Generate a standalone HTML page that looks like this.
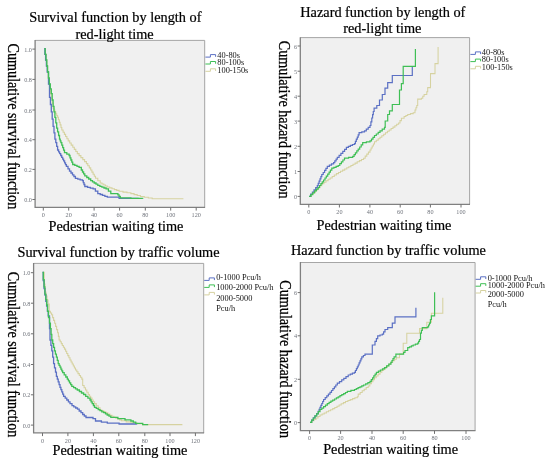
<!DOCTYPE html>
<html><head><meta charset="utf-8"><title>Survival and hazard functions</title>
<style>
html,body{margin:0;padding:0;background:#fff;}
svg{display:block;}
text{font-family:"Liberation Serif",serif;fill:#000;}
.tt{font-size:13.6px;stroke:#000;stroke-width:0.2px;}
.xl{font-size:13.6px;stroke:#000;stroke-width:0.2px;}
.yl{font-size:14.15px;stroke:#000;stroke-width:0.25px;}
.lg{font-size:8.35px;fill:#111;}
.tk{font-size:6.2px;fill:#70747c;}
</style></head><body>
<svg width="550" height="464" viewBox="0 0 550 464">
<rect width="550" height="464" fill="#ffffff"/>
<rect x="35.1" y="40.4" width="169.6" height="167.0" fill="#f0f0f0"/>
<path d="M35.1 40.4 H204.7 V207.4" fill="none" stroke="#9c9c9c" stroke-width="0.9"/>
<path d="M35.1 40.0 V207.4 H205.1" fill="none" stroke="#808080" stroke-width="1.3"/>
<rect x="300.3" y="37.6" width="169.3" height="166.7" fill="#f0f0f0"/>
<path d="M300.3 37.6 H469.6 V204.3" fill="none" stroke="#9c9c9c" stroke-width="0.9"/>
<path d="M300.3 37.2 V204.3 H470.0" fill="none" stroke="#808080" stroke-width="1.3"/>
<rect x="33.6" y="263.4" width="170.1" height="169.5" fill="#f0f0f0"/>
<path d="M33.6 263.4 H203.7 V432.9" fill="none" stroke="#9c9c9c" stroke-width="0.9"/>
<path d="M33.6 263.0 V432.9 H204.1" fill="none" stroke="#808080" stroke-width="1.3"/>
<rect x="300.4" y="262.5" width="174.7" height="168.2" fill="#f0f0f0"/>
<path d="M300.4 262.5 H475.1 V430.7" fill="none" stroke="#9c9c9c" stroke-width="0.9"/>
<path d="M300.4 262.1 V430.7 H475.5" fill="none" stroke="#808080" stroke-width="1.3"/>
<line x1="43.3" y1="207.4" x2="43.3" y2="210.6" stroke="#707070" stroke-width="1"/>
<text x="43.3" y="217.1" class="tk" text-anchor="middle">0</text>
<line x1="68.7" y1="207.4" x2="68.7" y2="210.6" stroke="#707070" stroke-width="1"/>
<text x="68.7" y="217.1" class="tk" text-anchor="middle">20</text>
<line x1="94.1" y1="207.4" x2="94.1" y2="210.6" stroke="#707070" stroke-width="1"/>
<text x="94.1" y="217.1" class="tk" text-anchor="middle">40</text>
<line x1="119.6" y1="207.4" x2="119.6" y2="210.6" stroke="#707070" stroke-width="1"/>
<text x="119.6" y="217.1" class="tk" text-anchor="middle">60</text>
<line x1="145.3" y1="207.4" x2="145.3" y2="210.6" stroke="#707070" stroke-width="1"/>
<text x="145.3" y="217.1" class="tk" text-anchor="middle">80</text>
<line x1="170.7" y1="207.4" x2="170.7" y2="210.6" stroke="#707070" stroke-width="1"/>
<text x="170.7" y="217.1" class="tk" text-anchor="middle">100</text>
<line x1="196.2" y1="207.4" x2="196.2" y2="210.6" stroke="#707070" stroke-width="1"/>
<text x="196.2" y="217.1" class="tk" text-anchor="middle">120</text>
<line x1="32.4" y1="49.1" x2="35.1" y2="49.1" stroke="#707070" stroke-width="1"/>
<text x="31.9" y="51.7" class="tk" text-anchor="end">1.0</text>
<line x1="32.4" y1="79.4" x2="35.1" y2="79.4" stroke="#707070" stroke-width="1"/>
<text x="31.9" y="82.0" class="tk" text-anchor="end">0.8</text>
<line x1="32.4" y1="110.0" x2="35.1" y2="110.0" stroke="#707070" stroke-width="1"/>
<text x="31.9" y="112.6" class="tk" text-anchor="end">0.6</text>
<line x1="32.4" y1="139.7" x2="35.1" y2="139.7" stroke="#707070" stroke-width="1"/>
<text x="31.9" y="142.3" class="tk" text-anchor="end">0.4</text>
<line x1="32.4" y1="169.4" x2="35.1" y2="169.4" stroke="#707070" stroke-width="1"/>
<text x="31.9" y="172.0" class="tk" text-anchor="end">0.2</text>
<line x1="32.4" y1="199.5" x2="35.1" y2="199.5" stroke="#707070" stroke-width="1"/>
<text x="31.9" y="202.1" class="tk" text-anchor="end">0.0</text>
<line x1="308.8" y1="204.3" x2="308.8" y2="207.5" stroke="#707070" stroke-width="1"/>
<text x="308.8" y="214.0" class="tk" text-anchor="middle">0</text>
<line x1="339.4" y1="204.3" x2="339.4" y2="207.5" stroke="#707070" stroke-width="1"/>
<text x="339.4" y="214.0" class="tk" text-anchor="middle">20</text>
<line x1="369.9" y1="204.3" x2="369.9" y2="207.5" stroke="#707070" stroke-width="1"/>
<text x="369.9" y="214.0" class="tk" text-anchor="middle">40</text>
<line x1="400.2" y1="204.3" x2="400.2" y2="207.5" stroke="#707070" stroke-width="1"/>
<text x="400.2" y="214.0" class="tk" text-anchor="middle">60</text>
<line x1="430.4" y1="204.3" x2="430.4" y2="207.5" stroke="#707070" stroke-width="1"/>
<text x="430.4" y="214.0" class="tk" text-anchor="middle">80</text>
<line x1="461.0" y1="204.3" x2="461.0" y2="207.5" stroke="#707070" stroke-width="1"/>
<text x="461.0" y="214.0" class="tk" text-anchor="middle">100</text>
<line x1="297.6" y1="46.0" x2="300.3" y2="46.0" stroke="#707070" stroke-width="1"/>
<text x="297.1" y="48.6" class="tk" text-anchor="end">6</text>
<line x1="297.6" y1="71.2" x2="300.3" y2="71.2" stroke="#707070" stroke-width="1"/>
<text x="297.1" y="73.8" class="tk" text-anchor="end">5</text>
<line x1="297.6" y1="96.2" x2="300.3" y2="96.2" stroke="#707070" stroke-width="1"/>
<text x="297.1" y="98.8" class="tk" text-anchor="end">4</text>
<line x1="297.6" y1="121.1" x2="300.3" y2="121.1" stroke="#707070" stroke-width="1"/>
<text x="297.1" y="123.7" class="tk" text-anchor="end">3</text>
<line x1="297.6" y1="146.3" x2="300.3" y2="146.3" stroke="#707070" stroke-width="1"/>
<text x="297.1" y="148.9" class="tk" text-anchor="end">2</text>
<line x1="297.6" y1="171.5" x2="300.3" y2="171.5" stroke="#707070" stroke-width="1"/>
<text x="297.1" y="174.1" class="tk" text-anchor="end">1</text>
<line x1="297.6" y1="196.4" x2="300.3" y2="196.4" stroke="#707070" stroke-width="1"/>
<text x="297.1" y="199.0" class="tk" text-anchor="end">0</text>
<line x1="42.5" y1="432.9" x2="42.5" y2="436.1" stroke="#707070" stroke-width="1"/>
<text x="42.5" y="442.6" class="tk" text-anchor="middle">0</text>
<line x1="67.9" y1="432.9" x2="67.9" y2="436.1" stroke="#707070" stroke-width="1"/>
<text x="67.9" y="442.6" class="tk" text-anchor="middle">20</text>
<line x1="93.4" y1="432.9" x2="93.4" y2="436.1" stroke="#707070" stroke-width="1"/>
<text x="93.4" y="442.6" class="tk" text-anchor="middle">40</text>
<line x1="118.8" y1="432.9" x2="118.8" y2="436.1" stroke="#707070" stroke-width="1"/>
<text x="118.8" y="442.6" class="tk" text-anchor="middle">60</text>
<line x1="144.8" y1="432.9" x2="144.8" y2="436.1" stroke="#707070" stroke-width="1"/>
<text x="144.8" y="442.6" class="tk" text-anchor="middle">80</text>
<line x1="170.0" y1="432.9" x2="170.0" y2="436.1" stroke="#707070" stroke-width="1"/>
<text x="170.0" y="442.6" class="tk" text-anchor="middle">100</text>
<line x1="195.4" y1="432.9" x2="195.4" y2="436.1" stroke="#707070" stroke-width="1"/>
<text x="195.4" y="442.6" class="tk" text-anchor="middle">120</text>
<line x1="30.9" y1="272.7" x2="33.6" y2="272.7" stroke="#707070" stroke-width="1"/>
<text x="30.4" y="275.3" class="tk" text-anchor="end">1.0</text>
<line x1="30.9" y1="303.2" x2="33.6" y2="303.2" stroke="#707070" stroke-width="1"/>
<text x="30.4" y="305.8" class="tk" text-anchor="end">0.8</text>
<line x1="30.9" y1="333.8" x2="33.6" y2="333.8" stroke="#707070" stroke-width="1"/>
<text x="30.4" y="336.4" class="tk" text-anchor="end">0.6</text>
<line x1="30.9" y1="364.5" x2="33.6" y2="364.5" stroke="#707070" stroke-width="1"/>
<text x="30.4" y="367.1" class="tk" text-anchor="end">0.4</text>
<line x1="30.9" y1="394.8" x2="33.6" y2="394.8" stroke="#707070" stroke-width="1"/>
<text x="30.4" y="397.4" class="tk" text-anchor="end">0.2</text>
<line x1="30.9" y1="425.1" x2="33.6" y2="425.1" stroke="#707070" stroke-width="1"/>
<text x="30.4" y="427.7" class="tk" text-anchor="end">0.0</text>
<line x1="309.6" y1="430.7" x2="309.6" y2="433.9" stroke="#707070" stroke-width="1"/>
<text x="309.6" y="440.4" class="tk" text-anchor="middle">0</text>
<line x1="340.6" y1="430.7" x2="340.6" y2="433.9" stroke="#707070" stroke-width="1"/>
<text x="340.6" y="440.4" class="tk" text-anchor="middle">20</text>
<line x1="372.0" y1="430.7" x2="372.0" y2="433.9" stroke="#707070" stroke-width="1"/>
<text x="372.0" y="440.4" class="tk" text-anchor="middle">40</text>
<line x1="403.2" y1="430.7" x2="403.2" y2="433.9" stroke="#707070" stroke-width="1"/>
<text x="403.2" y="440.4" class="tk" text-anchor="middle">60</text>
<line x1="434.5" y1="430.7" x2="434.5" y2="433.9" stroke="#707070" stroke-width="1"/>
<text x="434.5" y="440.4" class="tk" text-anchor="middle">80</text>
<line x1="466.0" y1="430.7" x2="466.0" y2="433.9" stroke="#707070" stroke-width="1"/>
<text x="466.0" y="440.4" class="tk" text-anchor="middle">100</text>
<line x1="297.7" y1="292.6" x2="300.4" y2="292.6" stroke="#707070" stroke-width="1"/>
<text x="297.2" y="295.2" class="tk" text-anchor="end">6</text>
<line x1="297.7" y1="335.8" x2="300.4" y2="335.8" stroke="#707070" stroke-width="1"/>
<text x="297.2" y="338.4" class="tk" text-anchor="end">4</text>
<line x1="297.7" y1="379.3" x2="300.4" y2="379.3" stroke="#707070" stroke-width="1"/>
<text x="297.2" y="381.9" class="tk" text-anchor="end">2</text>
<line x1="297.7" y1="422.6" x2="300.4" y2="422.6" stroke="#707070" stroke-width="1"/>
<text x="297.2" y="425.2" class="tk" text-anchor="end">0</text>
<path d="M44.4 48.7 L45.2 48.7 L45.2 54.4 L46.0 54.4 L46.0 60.0 L46.8 60.0 L46.8 66.0 L47.5 66.0 L47.5 72.0 L48.2 72.0 L48.2 78.0 L49.0 78.0 L49.0 84.0 L49.7 84.0 L49.7 88.8 L50.4 88.8 L50.4 93.6 L51.3 93.6 L51.3 98.5 L52.2 98.5 L52.2 103.3 L53.1 103.3 L53.1 108.2 L54.0 108.2 L54.0 110.0 L54.9 110.0 L54.9 111.8 L55.8 111.8 L55.8 113.7 L56.7 113.7 L56.7 115.5 L57.6 115.5 L57.6 117.3 L58.4 117.3 L58.4 119.8 L59.3 119.8 L59.3 122.4 L60.1 122.4 L60.1 124.9 L61.0 124.9 L61.0 127.5 L61.8 127.5 L61.8 130.0 L63.1 130.0 L63.1 132.2 L64.4 132.2 L64.4 134.4 L65.6 134.4 L65.6 136.5 L66.9 136.5 L66.9 138.7 L68.2 138.7 L68.2 140.9 L69.7 140.9 L69.7 143.0 L71.2 143.0 L71.2 145.1 L72.8 145.1 L72.8 147.2 L74.3 147.2 L74.3 149.4 L75.8 149.4 L75.8 151.5 L77.3 151.5 L77.3 153.6 L79.1 153.6 L79.1 155.6 L80.9 155.6 L80.9 157.6 L82.8 157.6 L82.8 159.6 L84.6 159.6 L84.6 161.6 L86.4 161.6 L86.4 163.6 L87.8 163.6 L87.8 165.7 L89.3 165.7 L89.3 167.9 L90.7 167.9 L90.7 170.0 L91.9 170.0 L91.9 172.1 L93.1 172.1 L93.1 174.2 L94.3 174.2 L94.3 176.2 L95.5 176.2 L95.5 178.3 L97.8 178.3 L97.8 180.7 L100.2 180.7 L100.2 183.0 L102.0 183.0 L102.0 184.0 L103.8 184.0 L103.8 185.0 L105.5 185.0 L105.5 186.0 L107.3 186.0 L107.3 187.0 L109.7 187.0 L109.7 187.9 L112.0 187.9 L112.0 188.7 L114.4 188.7 L114.4 189.6 L116.7 189.6 L116.7 190.4 L119.1 190.4 L119.1 191.3 L123.0 191.3 L123.0 192.1 L127.0 192.1 L127.0 192.8 L130.9 192.8 L130.9 193.6 L134.1 193.6 L134.1 194.6 L137.2 194.6 L137.2 195.5 L140.4 195.5 L140.4 196.5 L144.3 196.5 L144.3 197.3 L148.3 197.3 L148.3 198.0 L152.2 198.0 L152.2 198.8 L183.4 198.8 L183.4 198.8" fill="none" stroke="#d6d2a0" stroke-width="1.1" stroke-linejoin="miter"/>
<path d="M44.2 48.7 L44.9 48.7 L44.9 54.4 L45.6 54.4 L45.6 60.0 L46.4 60.0 L46.4 66.0 L47.2 66.0 L47.2 72.0 L48.5 72.0 L48.5 84.0 L49.5 84.0 L49.5 97.3 L50.4 97.3 L50.4 104.5 L51.3 104.5 L51.3 111.8 L52.2 111.8 L52.2 119.1 L53.1 119.1 L53.1 126.4 L54.0 126.4 L54.0 132.8 L54.9 132.8 L54.9 139.1 L55.8 139.1 L55.8 142.7 L56.7 142.7 L56.7 146.4 L57.6 146.4 L57.6 150.0 L58.6 150.0 L58.6 151.8 L59.6 151.8 L59.6 153.6 L60.7 153.6 L60.7 155.5 L61.7 155.5 L61.7 157.3 L62.7 157.3 L62.7 159.1 L63.6 159.1 L63.6 160.9 L64.6 160.9 L64.6 162.8 L65.5 162.8 L65.5 164.6 L66.4 164.6 L66.4 166.4 L68.0 166.4 L68.0 168.8 L69.5 168.8 L69.5 171.2 L71.0 171.2 L71.0 173.0 L72.5 173.0 L72.5 174.8 L73.9 174.8 L73.9 176.5 L75.4 176.5 L75.4 178.3 L77.8 178.3 L77.8 179.1 L80.1 179.1 L80.1 179.8 L82.5 179.8 L82.5 180.6 L83.3 180.6 L83.3 182.6 L84.0 182.6 L84.0 184.5 L84.8 184.5 L84.8 186.5 L87.6 186.5 L87.6 187.3 L90.3 187.3 L90.3 188.1 L93.1 188.1 L93.1 188.9 L95.4 188.9 L95.4 191.2 L97.8 191.2 L97.8 193.6 L100.2 193.6 L100.2 194.5 L102.5 194.5 L102.5 195.4 L104.9 195.4 L104.9 196.3 L107.3 196.3 L107.3 197.2 L119.1 197.2 L119.1 198.4 L138.0 198.4 L138.0 198.8" fill="none" stroke="#5b70c4" stroke-width="1.3" stroke-linejoin="miter"/>
<path d="M44.4 48.7 L45.2 48.7 L45.2 54.4 L46.0 54.4 L46.0 60.0 L46.8 60.0 L46.8 66.0 L47.6 66.0 L47.6 72.0 L48.5 72.0 L48.5 78.0 L49.3 78.0 L49.3 84.0 L50.3 84.0 L50.3 88.8 L51.3 88.8 L51.3 93.6 L52.2 93.6 L52.2 100.0 L53.1 100.0 L53.1 106.4 L54.0 106.4 L54.0 111.8 L54.9 111.8 L54.9 117.3 L55.8 117.3 L55.8 122.8 L56.7 122.8 L56.7 128.2 L57.6 128.2 L57.6 131.8 L58.6 131.8 L58.6 135.5 L59.5 135.5 L59.5 139.1 L60.2 139.1 L60.2 140.9 L60.9 140.9 L60.9 142.7 L61.8 142.7 L61.8 145.2 L62.7 145.2 L62.7 147.7 L63.6 147.7 L63.6 150.2 L64.5 150.2 L64.5 152.7 L66.8 152.7 L66.8 154.1 L69.1 154.1 L69.1 155.5 L70.0 155.5 L70.0 157.8 L70.9 157.8 L70.9 160.0 L71.8 160.0 L71.8 162.2 L72.7 162.2 L72.7 164.5 L74.8 164.5 L74.8 165.4 L77.0 165.4 L77.0 166.4 L79.1 166.4 L79.1 167.3 L81.3 167.3 L81.3 170.0 L82.5 170.0 L82.5 172.0 L83.6 172.0 L83.6 173.9 L84.8 173.9 L84.8 175.9 L86.8 175.9 L86.8 177.5 L88.7 177.5 L88.7 179.0 L90.7 179.0 L90.7 180.6 L92.5 180.6 L92.5 181.8 L94.2 181.8 L94.2 183.0 L96.0 183.0 L96.0 184.2 L97.8 184.2 L97.8 185.4 L99.9 185.4 L99.9 186.3 L101.9 186.3 L101.9 187.2 L104.0 187.2 L104.0 188.0 L106.1 188.0 L106.1 188.9 L108.4 188.9 L108.4 191.2 L110.8 191.2 L110.8 193.6 L117.9 193.6 L117.9 194.8 L119.1 194.8 L119.1 196.4 L120.3 196.4 L120.3 197.9 L130.9 197.9 L130.9 198.4 L142.7 198.4 L142.7 198.8" fill="none" stroke="#3fbf55" stroke-width="1.3" stroke-linejoin="miter"/>
<path d="M309.1 196.4 L311.2 196.4 L311.2 194.3 L313.3 194.3 L313.3 192.1 L315.5 192.1 L315.5 190.0 L317.6 190.0 L317.6 187.9 L319.7 187.9 L319.7 185.7 L321.8 185.7 L321.8 183.6 L323.9 183.6 L323.9 182.2 L326.0 182.2 L326.0 180.7 L328.1 180.7 L328.1 179.3 L330.1 179.3 L330.1 177.9 L332.2 177.9 L332.2 176.5 L334.3 176.5 L334.3 175.0 L336.4 175.0 L336.4 173.6 L338.5 173.6 L338.5 172.4 L340.5 172.4 L340.5 171.3 L342.6 171.3 L342.6 170.1 L344.7 170.1 L344.7 169.0 L346.8 169.0 L346.8 167.8 L348.8 167.8 L348.8 166.7 L350.9 166.7 L350.9 165.5 L353.0 165.5 L353.0 164.3 L355.1 164.3 L355.1 163.1 L357.2 163.1 L357.2 161.8 L359.4 161.8 L359.4 160.6 L361.5 160.6 L361.5 159.4 L363.6 159.4 L363.6 158.2 L365.2 158.2 L365.2 156.1 L366.8 156.1 L366.8 154.1 L368.4 154.1 L368.4 152.1 L370.0 152.1 L370.0 150.0 L371.1 150.0 L371.1 147.9 L372.2 147.9 L372.2 145.9 L373.4 145.9 L373.4 143.9 L374.5 143.9 L374.5 141.8 L376.3 141.8 L376.3 140.3 L378.2 140.3 L378.2 138.8 L380.0 138.8 L380.0 137.2 L381.8 137.2 L381.8 135.7 L383.7 135.7 L383.7 134.2 L385.5 134.2 L385.5 132.7 L387.4 132.7 L387.4 131.3 L389.2 131.3 L389.2 129.9 L391.1 129.9 L391.1 128.5 L393.0 128.5 L393.0 127.1 L394.9 127.1 L394.9 125.7 L396.7 125.7 L396.7 124.3 L398.6 124.3 L398.6 122.9 L400.0 122.9 L400.0 120.6 L401.4 120.6 L401.4 118.2 L404.1 118.2 L404.1 116.4 L405.9 116.4 L405.9 115.5 L407.7 115.5 L407.7 114.5 L410.4 114.5 L410.4 113.6 L413.2 113.6 L413.2 112.7 L415.0 112.7 L415.0 110.0 L415.9 110.0 L415.9 107.8 L416.8 107.8 L416.8 105.5 L417.7 105.5 L417.7 99.1 L421.4 99.1 L421.4 98.2 L422.8 98.2 L422.8 96.3 L424.1 96.3 L424.1 94.5 L426.8 94.5 L426.8 91.8 L427.7 91.8 L427.7 87.6 L430.5 87.6 L430.5 87.3 L430.5 87.3 L430.5 73.6 L435.0 73.6 L435.0 73.6 L435.0 73.6 L435.0 63.6 L438.1 63.6 L438.1 63.6 L438.1 63.6 L438.1 46.9" fill="none" stroke="#d6d2a0" stroke-width="1.05" stroke-linejoin="miter"/>
<path d="M309.1 196.4 L310.7 196.4 L310.7 194.2 L312.4 194.2 L312.4 192.0 L314.0 192.0 L314.0 189.9 L315.7 189.9 L315.7 187.7 L317.3 187.7 L317.3 185.5 L318.2 185.5 L318.2 183.3 L319.1 183.3 L319.1 181.1 L320.0 181.1 L320.0 178.9 L320.9 178.9 L320.9 176.7 L321.8 176.7 L321.8 174.5 L323.2 174.5 L323.2 172.5 L324.6 172.5 L324.6 170.4 L325.9 170.4 L325.9 168.4 L327.3 168.4 L327.3 166.4 L329.4 166.4 L329.4 165.2 L331.5 165.2 L331.5 163.9 L333.6 163.9 L333.6 162.7 L334.8 162.7 L334.8 160.9 L336.1 160.9 L336.1 159.1 L337.3 159.1 L337.3 157.3 L339.1 157.3 L339.1 155.3 L340.9 155.3 L340.9 153.3 L342.8 153.3 L342.8 151.3 L344.6 151.3 L344.6 149.3 L346.4 149.3 L346.4 147.3 L348.4 147.3 L348.4 146.4 L350.4 146.4 L350.4 145.4 L352.5 145.4 L352.5 144.5 L354.5 144.5 L354.5 143.6 L355.4 143.6 L355.4 141.4 L356.3 141.4 L356.3 139.2 L357.3 139.2 L357.3 137.1 L358.2 137.1 L358.2 134.9 L359.1 134.9 L359.1 132.7 L361.8 132.7 L361.8 131.8 L364.5 131.8 L364.5 130.9 L366.3 130.9 L366.3 129.1 L368.2 129.1 L368.2 127.3 L370.0 127.3 L370.0 125.5 L370.9 125.5 L370.9 121.8 L371.8 121.8 L371.8 118.0 L372.6 118.0 L372.6 114.7 L373.3 114.7 L373.3 111.5 L374.1 111.5 L374.1 108.2 L376.8 108.2 L376.8 105.5 L379.5 105.5 L379.5 105.5 L379.5 105.5 L379.5 100.0 L382.3 100.0 L382.3 100.0 L382.3 100.0 L382.3 94.5 L385.0 94.5 L385.0 92.7 L385.0 92.7 L385.0 88.2 L387.7 88.2 L387.7 88.2 L387.7 88.2 L387.7 82.7 L392.3 82.7 L392.3 82.7 L392.3 82.7 L392.3 75.5 L412.3 75.5 L412.3 75.5 L412.3 75.5 L412.3 66.4" fill="none" stroke="#5b70c4" stroke-width="1.2" stroke-linejoin="miter"/>
<path d="M309.1 196.4 L310.9 196.4 L310.9 194.6 L312.7 194.6 L312.7 192.8 L314.6 192.8 L314.6 190.9 L316.4 190.9 L316.4 189.1 L318.2 189.1 L318.2 187.3 L319.6 187.3 L319.6 185.5 L320.9 185.5 L320.9 183.7 L322.2 183.7 L322.2 181.8 L323.6 181.8 L323.6 180.0 L325.0 180.0 L325.0 178.0 L326.3 178.0 L326.3 176.1 L327.7 176.1 L327.7 174.1 L329.1 174.1 L329.1 172.1 L330.4 172.1 L330.4 170.2 L331.8 170.2 L331.8 168.2 L333.9 168.2 L333.9 167.3 L336.1 167.3 L336.1 166.4 L338.2 166.4 L338.2 165.5 L339.8 165.5 L339.8 163.7 L341.4 163.7 L341.4 161.8 L342.9 161.8 L342.9 160.0 L344.5 160.0 L344.5 158.2 L348.6 158.2 L348.6 157.3 L352.7 157.3 L352.7 156.4 L354.1 156.4 L354.1 154.6 L355.4 154.6 L355.4 152.8 L356.8 152.8 L356.8 150.9 L358.2 150.9 L358.2 149.1 L359.7 149.1 L359.7 147.0 L361.2 147.0 L361.2 144.8 L362.7 144.8 L362.7 142.7 L366.4 142.7 L366.4 141.8 L370.0 141.8 L370.0 140.9 L371.5 140.9 L371.5 139.1 L373.0 139.1 L373.0 137.3 L374.5 137.3 L374.5 135.5 L376.3 135.5 L376.3 134.0 L378.2 134.0 L378.2 132.4 L380.0 132.4 L380.0 130.9 L382.2 130.9 L382.2 129.1 L384.5 129.1 L384.5 127.3 L385.2 127.3 L385.2 121.0 L387.7 121.0 L387.7 120.0 L387.7 120.0 L387.7 114.5 L389.5 114.5 L389.5 114.5 L389.5 114.5 L389.5 110.9 L392.3 110.9 L392.3 108.2 L392.3 108.2 L392.3 104.5 L399.5 104.5 L399.5 104.5 L399.5 104.5 L399.5 90.0 L401.4 90.0 L401.4 90.0 L401.4 90.0 L401.4 83.6 L403.2 83.6 L403.2 83.6 L403.2 83.6 L403.2 66.4 L415.4 66.4 L415.4 66.4 L415.4 66.4 L415.4 49.1" fill="none" stroke="#3fbf55" stroke-width="1.2" stroke-linejoin="miter"/>
<path d="M43.1 272.3 L44.2 272.3 L44.2 284.0 L45.0 284.0 L45.0 292.0 L46.0 292.0 L46.0 296.0 L47.0 296.0 L47.0 300.0 L48.0 300.0 L48.0 304.0 L49.2 304.0 L49.2 311.2 L50.4 311.2 L50.4 313.0 L51.6 313.0 L51.6 314.8 L52.6 314.8 L52.6 317.6 L53.6 317.6 L53.6 320.4 L54.6 320.4 L54.6 323.2 L55.6 323.2 L55.6 326.4 L56.6 326.4 L56.6 329.6 L57.6 329.6 L57.6 332.8 L58.4 332.8 L58.4 336.4 L59.1 336.4 L59.1 340.0 L60.2 340.0 L60.2 341.8 L61.3 341.8 L61.3 343.6 L62.3 343.6 L62.3 345.5 L63.4 345.5 L63.4 347.3 L64.5 347.3 L64.5 349.1 L65.6 349.1 L65.6 351.3 L66.7 351.3 L66.7 353.5 L67.8 353.5 L67.8 355.6 L68.9 355.6 L68.9 357.8 L70.0 357.8 L70.0 360.0 L71.1 360.0 L71.1 362.0 L72.2 362.0 L72.2 364.0 L73.3 364.0 L73.3 366.0 L74.4 366.0 L74.4 368.0 L75.5 368.0 L75.5 370.0 L76.8 370.0 L76.8 371.8 L78.0 371.8 L78.0 373.6 L79.3 373.6 L79.3 375.5 L80.5 375.5 L80.5 377.3 L81.8 377.3 L81.8 379.1 L82.7 379.1 L82.7 385.5 L84.1 385.5 L84.1 387.8 L85.5 387.8 L85.5 390.0 L86.8 390.0 L86.8 392.2 L88.2 392.2 L88.2 394.5 L89.5 394.5 L89.5 396.3 L90.7 396.3 L90.7 398.1 L92.0 398.1 L92.0 400.0 L93.2 400.0 L93.2 401.8 L94.5 401.8 L94.5 403.6 L96.3 403.6 L96.3 405.7 L98.2 405.7 L98.2 407.9 L100.0 407.9 L100.0 410.0 L101.8 410.0 L101.8 410.9 L103.7 410.9 L103.7 411.8 L105.8 411.8 L105.8 412.9 L107.8 412.9 L107.8 414.1 L109.9 414.1 L109.9 415.2 L112.0 415.2 L112.0 416.3 L113.9 416.3 L113.9 417.2 L115.8 417.2 L115.8 418.1 L117.7 418.1 L117.7 419.0 L119.6 419.0 L119.6 419.9 L121.5 419.9 L121.5 420.8 L126.2 420.8 L126.2 421.9 L130.9 421.9 L130.9 422.9 L136.8 422.9 L136.8 423.8 L142.7 423.8 L142.7 424.6 L182.4 424.6 L182.4 424.6" fill="none" stroke="#d6d2a0" stroke-width="1.1" stroke-linejoin="miter"/>
<path d="M42.5 272.3 L43.2 272.3 L43.2 280.5 L44.0 280.5 L44.0 288.6 L44.9 288.6 L44.9 295.0 L45.8 295.0 L45.8 301.4 L46.6 301.4 L46.6 306.2 L47.4 306.2 L47.4 311.1 L48.2 311.1 L48.2 315.9 L49.5 315.9 L49.5 328.6 L50.0 328.6 L50.0 340.0 L50.9 340.0 L50.9 345.4 L51.8 345.4 L51.8 350.9 L52.7 350.9 L52.7 357.2 L53.6 357.2 L53.6 363.6 L54.5 363.6 L54.5 367.9 L55.5 367.9 L55.5 372.1 L56.4 372.1 L56.4 376.4 L57.3 376.4 L57.3 379.1 L58.2 379.1 L58.2 381.9 L59.1 381.9 L59.1 384.6 L60.0 384.6 L60.0 387.3 L60.9 387.3 L60.9 389.6 L61.8 389.6 L61.8 391.9 L62.7 391.9 L62.7 394.1 L63.6 394.1 L63.6 396.4 L65.2 396.4 L65.2 398.2 L66.8 398.2 L66.8 400.0 L68.4 400.0 L68.4 401.8 L70.0 401.8 L70.0 403.6 L72.0 403.6 L72.0 405.6 L73.8 405.6 L73.8 406.8 L75.7 406.8 L75.7 408.0 L77.5 408.0 L77.5 409.2 L79.2 409.2 L79.2 411.0 L81.0 411.0 L81.0 412.7 L82.7 412.7 L82.7 414.5 L84.3 414.5 L84.3 416.0 L86.0 416.0 L86.0 417.5 L93.0 417.5 L93.0 418.6 L95.5 418.6 L95.5 421.0 L101.4 421.0 L101.4 422.1 L107.3 422.1 L107.3 423.2 L119.1 423.2 L119.1 424.0 L136.6 424.0 L136.6 424.5" fill="none" stroke="#5b70c4" stroke-width="1.3" stroke-linejoin="miter"/>
<path d="M42.5 272.3 L43.3 272.3 L43.3 279.6 L44.1 279.6 L44.1 286.8 L44.9 286.8 L44.9 294.1 L45.8 294.1 L45.8 299.6 L46.7 299.6 L46.7 305.0 L47.6 305.0 L47.6 311.4 L48.5 311.4 L48.5 317.7 L49.5 317.7 L49.5 323.1 L50.4 323.1 L50.4 328.6 L51.1 328.6 L51.1 334.3 L51.8 334.3 L51.8 340.0 L52.7 340.0 L52.7 343.6 L53.6 343.6 L53.6 347.3 L54.5 347.3 L54.5 350.9 L55.4 350.9 L55.4 354.1 L56.4 354.1 L56.4 357.2 L57.3 357.2 L57.3 360.4 L58.2 360.4 L58.2 363.6 L59.1 363.6 L59.1 365.4 L60.0 365.4 L60.0 367.2 L60.9 367.2 L60.9 369.1 L61.8 369.1 L61.8 370.9 L62.7 370.9 L62.7 372.7 L64.2 372.7 L64.2 374.8 L65.8 374.8 L65.8 377.0 L67.3 377.0 L67.3 379.1 L68.4 379.1 L68.4 380.9 L69.5 380.9 L69.5 382.8 L70.7 382.8 L70.7 384.6 L71.8 384.6 L71.8 386.4 L73.6 386.4 L73.6 387.6 L75.5 387.6 L75.5 388.8 L77.3 388.8 L77.3 390.0 L79.4 390.0 L79.4 391.5 L81.5 391.5 L81.5 393.0 L83.6 393.0 L83.6 394.5 L85.7 394.5 L85.7 396.3 L87.9 396.3 L87.9 398.2 L90.0 398.2 L90.0 400.0 L91.1 400.0 L91.1 401.8 L92.2 401.8 L92.2 403.6 L93.4 403.6 L93.4 405.5 L94.5 405.5 L94.5 407.3 L96.3 407.3 L96.3 408.4 L98.2 408.4 L98.2 409.6 L100.0 409.6 L100.0 410.7 L101.8 410.7 L101.8 411.8 L103.7 411.8 L103.7 412.7 L105.5 412.7 L105.5 413.9 L107.2 413.9 L107.2 415.0 L109.0 415.0 L109.0 416.1 L110.8 416.1 L110.8 417.3 L117.9 417.3 L117.9 418.6 L125.0 418.6 L125.0 419.8 L130.9 419.8 L130.9 421.0 L133.3 421.0 L133.3 422.2 L135.7 422.2 L135.7 423.4 L142.7 423.4 L142.7 424.6 L148.2 424.6 L148.2 424.6" fill="none" stroke="#3fbf55" stroke-width="1.3" stroke-linejoin="miter"/>
<path d="M310.0 422.3 L312.0 422.3 L312.0 420.8 L314.0 420.8 L314.0 419.4 L316.0 419.4 L316.0 417.9 L318.0 417.9 L318.0 416.5 L320.0 416.5 L320.0 415.0 L322.1 415.0 L322.1 413.9 L324.2 413.9 L324.2 412.9 L326.4 412.9 L326.4 411.8 L328.5 411.8 L328.5 410.7 L330.6 410.7 L330.6 409.7 L332.7 409.7 L332.7 408.6 L334.8 408.6 L334.8 407.4 L337.0 407.4 L337.0 406.2 L339.1 406.2 L339.1 405.0 L341.2 405.0 L341.2 403.8 L343.4 403.8 L343.4 402.6 L345.5 402.6 L345.5 401.4 L347.9 401.4 L347.9 400.5 L350.2 400.5 L350.2 399.6 L352.6 399.6 L352.6 398.6 L354.9 398.6 L354.9 397.7 L357.3 397.7 L357.3 396.8 L358.2 396.8 L358.2 394.1 L360.2 394.1 L360.2 392.5 L362.2 392.5 L362.2 390.8 L364.2 390.8 L364.2 389.2 L366.2 389.2 L366.2 387.5 L368.2 387.5 L368.2 385.9 L369.8 385.9 L369.8 383.8 L371.4 383.8 L371.4 381.8 L372.9 381.8 L372.9 379.8 L374.5 379.8 L374.5 377.7 L376.3 377.7 L376.3 375.9 L378.1 375.9 L378.1 374.1 L380.0 374.1 L380.0 372.3 L381.8 372.3 L381.8 370.5 L383.6 370.5 L383.6 368.9 L385.4 368.9 L385.4 367.2 L387.3 367.2 L387.3 365.6 L389.1 365.6 L389.1 363.9 L390.9 363.9 L390.9 362.3 L392.7 362.3 L392.7 360.8 L394.6 360.8 L394.6 359.2 L396.4 359.2 L396.4 357.7 L399.5 357.7 L399.5 357.5 L399.5 357.5 L399.5 354.1 L403.2 354.1 L403.2 354.1 L403.2 354.1 L403.2 343.2 L406.8 343.2 L406.8 343.2 L406.8 343.2 L406.8 333.2 L418.6 333.2 L418.6 333.2 L419.5 333.2 L419.5 328.6 L426.8 328.6 L426.8 328.6 L426.8 328.6 L426.8 322.3 L430.5 322.3 L430.5 322.3 L431.4 322.3 L431.4 313.2 L442.8 313.2 L442.8 313.2 L442.8 313.2 L442.8 297.7" fill="none" stroke="#d6d2a0" stroke-width="1.05" stroke-linejoin="miter"/>
<path d="M310.0 422.3 L311.6 422.3 L311.6 420.1 L313.3 420.1 L313.3 417.9 L314.9 417.9 L314.9 415.8 L316.6 415.8 L316.6 413.6 L318.2 413.6 L318.2 411.4 L319.1 411.4 L319.1 409.4 L320.0 409.4 L320.0 407.4 L320.9 407.4 L320.9 405.4 L321.8 405.4 L321.8 403.5 L322.7 403.5 L322.7 401.5 L323.6 401.5 L323.6 399.5 L325.2 399.5 L325.2 397.7 L326.8 397.7 L326.8 395.9 L328.4 395.9 L328.4 394.1 L330.0 394.1 L330.0 392.3 L331.5 392.3 L331.5 390.5 L332.9 390.5 L332.9 388.7 L334.4 388.7 L334.4 386.8 L335.8 386.8 L335.8 385.0 L337.3 385.0 L337.3 383.2 L339.5 383.2 L339.5 381.6 L341.7 381.6 L341.7 379.9 L343.8 379.9 L343.8 378.3 L346.0 378.3 L346.0 376.6 L348.2 376.6 L348.2 375.0 L350.3 375.0 L350.3 374.1 L352.4 374.1 L352.4 373.2 L354.5 373.2 L354.5 372.3 L355.4 372.3 L355.4 370.5 L356.4 370.5 L356.4 368.6 L357.3 368.6 L357.3 366.8 L358.2 366.8 L358.2 365.0 L359.1 365.0 L359.1 362.9 L360.0 362.9 L360.0 360.9 L360.9 360.9 L360.9 358.9 L361.8 358.9 L361.8 356.8 L363.4 356.8 L363.4 355.5 L365.0 355.5 L365.0 354.1 L372.3 354.1 L372.3 353.2 L372.3 353.2 L372.3 345.0 L375.0 345.0 L375.0 341.4 L376.4 341.4 L376.4 338.6 L377.7 338.6 L377.7 335.9 L380.0 335.9 L380.0 335.0 L382.3 335.0 L382.3 334.1 L383.6 334.1 L383.6 331.8 L385.0 331.8 L385.0 329.5 L387.7 329.5 L387.7 327.7 L392.3 327.7 L392.3 327.7 L392.3 327.7 L392.3 323.2 L395.0 323.2 L395.0 323.2 L395.0 323.2 L395.0 316.8 L415.9 316.8 L415.9 316.8 L415.9 316.8 L415.9 307.7" fill="none" stroke="#5b70c4" stroke-width="1.2" stroke-linejoin="miter"/>
<path d="M310.0 422.3 L311.7 422.3 L311.7 420.2 L313.3 420.2 L313.3 418.0 L315.0 418.0 L315.0 415.9 L316.7 415.9 L316.7 413.8 L318.3 413.8 L318.3 411.6 L320.0 411.6 L320.0 409.5 L321.8 409.5 L321.8 408.1 L323.6 408.1 L323.6 406.6 L325.5 406.6 L325.5 405.2 L327.3 405.2 L327.3 403.7 L329.1 403.7 L329.1 402.3 L330.9 402.3 L330.9 401.2 L332.7 401.2 L332.7 400.1 L334.6 400.1 L334.6 399.0 L336.4 399.0 L336.4 397.9 L338.2 397.9 L338.2 396.8 L340.0 396.8 L340.0 395.7 L341.8 395.7 L341.8 394.6 L343.7 394.6 L343.7 393.6 L345.5 393.6 L345.5 392.5 L347.3 392.5 L347.3 391.4 L350.9 391.4 L350.9 390.4 L354.5 390.4 L354.5 389.5 L356.3 389.5 L356.3 388.6 L358.1 388.6 L358.1 387.7 L360.0 387.7 L360.0 386.8 L361.8 386.8 L361.8 385.9 L363.6 385.9 L363.6 385.0 L365.7 385.0 L365.7 383.8 L367.9 383.8 L367.9 382.6 L370.0 382.6 L370.0 381.4 L371.3 381.4 L371.3 379.6 L372.6 379.6 L372.6 377.8 L373.8 377.8 L373.8 375.9 L375.1 375.9 L375.1 374.1 L376.4 374.1 L376.4 372.3 L378.4 372.3 L378.4 371.1 L380.4 371.1 L380.4 370.0 L382.5 370.0 L382.5 368.9 L384.5 368.9 L384.5 367.7 L386.6 367.7 L386.6 365.9 L388.8 365.9 L388.8 364.1 L390.9 364.1 L390.9 362.3 L392.0 362.3 L392.0 360.5 L393.0 360.5 L393.0 358.6 L394.1 358.6 L394.1 356.8 L395.9 356.8 L395.9 354.1 L402.3 354.1 L402.3 354.1 L403.6 354.1 L403.6 352.3 L405.0 352.3 L405.0 350.5 L407.7 350.5 L407.7 347.7 L409.5 347.7 L409.5 346.8 L411.4 346.8 L411.4 345.9 L413.2 345.9 L413.2 345.0 L415.4 345.0 L415.4 344.1 L417.7 344.1 L417.7 343.2 L418.6 343.2 L418.6 341.4 L419.5 341.4 L419.5 339.5 L420.5 339.5 L420.5 333.2 L421.4 333.2 L421.4 330.4 L422.3 330.4 L422.3 327.7 L427.7 327.7 L427.7 326.8 L428.6 326.8 L428.6 325.0 L429.5 325.0 L429.5 323.2 L430.4 323.2 L430.4 319.5 L431.4 319.5 L431.4 315.9 L434.6 315.9 L434.6 314.1 L434.6 314.1 L434.6 292.3" fill="none" stroke="#3fbf55" stroke-width="1.2" stroke-linejoin="miter"/>
<path d="M205.4 57.1 h5 v-2.5 h5.2 v2.2" fill="none" stroke="#5b70c4" stroke-width="1"/>
<text x="217.3" y="57.9" class="lg">40-80s</text>
<path d="M205.4 64.0 h5 v-2.5 h5.2 v2.2" fill="none" stroke="#3fbf55" stroke-width="1"/>
<text x="217.3" y="65.3" class="lg">80-100s</text>
<path d="M205.4 71.3 h5 v-2.5 h5.2 v2.2" fill="none" stroke="#d6d2a0" stroke-width="1"/>
<text x="217.3" y="72.9" class="lg">100-150s</text>
<path d="M470.4 54.4 h5 v-2.5 h5.2 v2.2" fill="none" stroke="#5b70c4" stroke-width="1"/>
<text x="481.8" y="55.2" class="lg">40-80s</text>
<path d="M470.4 61.6 h5 v-2.5 h5.2 v2.2" fill="none" stroke="#3fbf55" stroke-width="1"/>
<text x="481.8" y="62.4" class="lg">80-100s</text>
<path d="M470.4 68.8 h5 v-2.5 h5.2 v2.2" fill="none" stroke="#d6d2a0" stroke-width="1"/>
<text x="481.8" y="70.0" class="lg">100-150s</text>
<path d="M204.2 280.4 h5 v-2.5 h5.2 v2.2" fill="none" stroke="#5b70c4" stroke-width="1"/>
<text x="216.2" y="279.6" class="lg">0-1000 Pcu/h</text>
<path d="M204.2 287.4 h5 v-2.5 h5.2 v2.2" fill="none" stroke="#3fbf55" stroke-width="1"/>
<text x="216.2" y="289.5" class="lg">1000-2000 Pcu/h</text>
<path d="M204.2 294.9 h5 v-2.5 h5.2 v2.2" fill="none" stroke="#d6d2a0" stroke-width="1"/>
<text x="216.2" y="301.2" class="lg">2000-5000</text>
<text x="216.2" y="311.3" class="lg">Pcu/h</text>
<path d="M475.6 279.3 h5 v-2.5 h5.2 v2.2" fill="none" stroke="#5b70c4" stroke-width="1"/>
<text x="487.7" y="280.8" class="lg">0-1000 Pcu/h</text>
<path d="M475.6 286.2 h5 v-2.5 h5.2 v2.2" fill="none" stroke="#3fbf55" stroke-width="1"/>
<text x="487.7" y="288.0" class="lg">1000-2000 Pcu/h</text>
<path d="M475.6 293.0 h5 v-2.5 h5.2 v2.2" fill="none" stroke="#d6d2a0" stroke-width="1"/>
<text x="487.7" y="296.8" class="lg">2000-5000</text>
<text x="487.7" y="306.5" class="lg">Pcu/h</text>
<text transform="translate(115.3,21.6) scale(1.052,1)" class="tt" text-anchor="middle">Survival function by length of</text>
<text transform="translate(114.6,38.8) scale(1.052,1)" class="tt" text-anchor="middle">red-light time</text>
<text transform="translate(382.8,16.6) scale(1.052,1)" class="tt" text-anchor="middle">Hazard function by length of</text>
<text transform="translate(382.3,33.3) scale(1.052,1)" class="tt" text-anchor="middle">red-light time</text>
<text transform="translate(118.5,256.6) scale(1.052,1)" class="tt" text-anchor="middle">Survival function by traffic volume</text>
<text transform="translate(388.5,255.0) scale(1.052,1)" class="tt" text-anchor="middle">Hazard function by traffic volume</text>
<text transform="translate(116.0,231.0) scale(1.052,1)" class="xl" text-anchor="middle">Pedestrian waiting time</text>
<text transform="translate(384.0,229.6) scale(1.052,1)" class="xl" text-anchor="middle">Pedestrian waiting time</text>
<text transform="translate(120.0,454.9) scale(1.052,1)" class="xl" text-anchor="middle">Pedestrian waiting time</text>
<text transform="translate(390.6,454.0) scale(1.052,1)" class="xl" text-anchor="middle">Pedestrian waiting time</text>
<text transform="translate(7.9,126.4) rotate(90) scale(1,1.17)" class="yl" text-anchor="middle">Cumulative survival function</text>
<text transform="translate(278.9,119.7) rotate(90) scale(1,1.17)" class="yl" text-anchor="middle">Cumulative hazard function</text>
<text transform="translate(7.9,354.6) rotate(90) scale(1,1.17)" class="yl" text-anchor="middle">Cumulative survival function</text>
<text transform="translate(279.5,359.2) rotate(90) scale(1,1.17)" class="yl" text-anchor="middle">Cumulative hazard function</text>
</svg>
</body></html>
